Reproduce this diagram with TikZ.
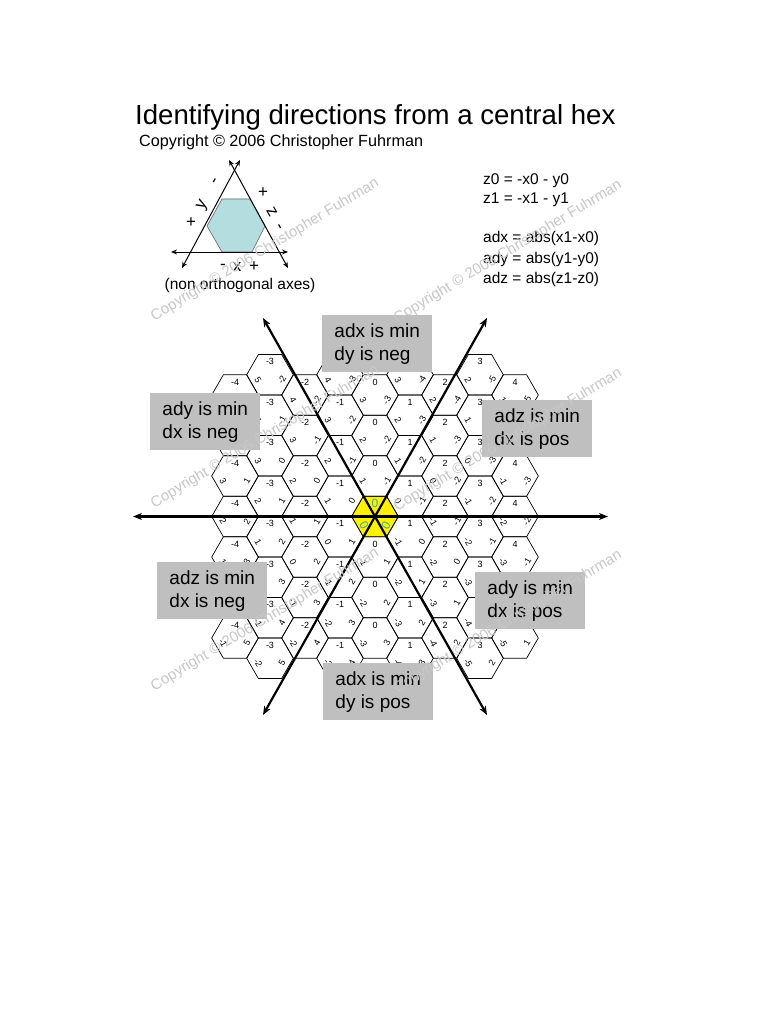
\documentclass[tikz,border=0pt]{standalone}
\usepackage{fontspec}
\setmainfont{Liberation Sans}
\usetikzlibrary{arrows.meta}
\definecolor{boxgray}{RGB}{191,191,191}
\definecolor{hexblue}{RGB}{180,221,224}
\definecolor{zerogreen}{RGB}{60,170,150}
\tikzset{
  hexline/.style={draw=black,line width=0.7pt},
  axisline/.style={line width=2.2pt,{Stealth[length=9pt,width=7pt]}-{Stealth[length=9pt,width=7pt]}},
  smallaxis/.style={line width=1pt,{Stealth[length=6pt,width=5pt]}-{Stealth[length=6pt,width=5pt]}},
  graybox/.style={fill=boxgray,minimum width=110pt,minimum height=57pt,align=left,font=\fontsize{19}{23}\selectfont,inner sep=6pt},
  hexnum/.style={font=\fontsize{9}{10}\selectfont,inner sep=0pt},
  wmark/.style={text=black!22,font=\fontsize{15}{17}\selectfont,rotate=31,inner sep=0pt},
  txt/.style={font=\fontsize{15.5}{17}\selectfont,inner sep=0pt,anchor=base west}
}
\begin{document}
\begin{tikzpicture}[x=1pt,y=-1pt]
\useasboundingbox (0,0) rectangle (768,1024);
\fill[white] (0,0) rectangle (768,1024);
% title
\node[anchor=base west,inner sep=0pt,font=\fontsize{27.6}{33}\selectfont] (title) at (135,125) {Identifying directions from a central hex};
\node[anchor=base west,inner sep=0pt,font=\fontsize{16.2}{18}\selectfont] (copy) at (139,147) {Copyright © 2006 Christopher Fuhrman};
% formulas
\node[txt] (f1) at (483,185) {z0 = -x0 - y0};
\node[txt] (f2) at (483,204) {z1 = -x1 - y1};
\node[txt] (f3) at (483,243) {adx = abs(x1-x0)};
\node[txt] (f4) at (483,263) {ady = abs(y1-y0)};
\node[txt] (f5) at (483,283) {adz = abs(z1-z0)};
% small triangle diagram
\fill[hexblue,draw=black!60,line width=0.6pt] (222,199) -- (250,199) -- (265,226) -- (252,252) -- (222,252) -- (207,226) -- cycle;
\coordinate (ta1) at (229,160); \coordinate (ta2) at (288,268);
\coordinate (tb1) at (240,160); \coordinate (tb2) at (182,268);
\coordinate (tc1) at (171,252); \coordinate (tc2) at (288,252);
\draw[smallaxis] (ta1) -- (ta2);
\draw[smallaxis] (tb1) -- (tb2);
\draw[smallaxis] (tc1) -- (tc2);
\node[font=\fontsize{17}{18}\selectfont] (yp) at (191,223) {+};
\node[font=\fontsize{17}{18}\selectfont,rotate=60] (yl) at (203,205) {y};
\node[font=\fontsize{17}{18}\selectfont,rotate=60] (ym) at (216,182) {-};
\node[font=\fontsize{17}{18}\selectfont] (zp) at (263,193) {+};
\node[font=\fontsize{17}{18}\selectfont,rotate=-60] (zl) at (272,212) {z};
\node[font=\fontsize{17}{18}\selectfont,rotate=-60] (zm) at (278,228) {-};
\node[font=\fontsize{17}{18}\selectfont] (xm) at (223,267) {-};
\node[font=\fontsize{17}{18}\selectfont] (xl) at (237,267) {x};
\node[font=\fontsize{17}{18}\selectfont] (xp) at (254,267) {+};
\node[font=\fontsize{15.5}{17}\selectfont,inner sep=0pt] (noa) at (240,285) {(non orthogonal axes)};
% hex grid
\foreach \i in {-4,...,4}{
  \foreach \r in {-6,...,6}{
    \pgfmathsetmacro\cx{375+35*\i}
    \pgfmathsetmacro\cy{516.5-40.5*(\r+\i/2)}
    \pgfmathtruncatemacro\ok{and(\cy>370,\cy<665)}
    \pgfmathtruncatemacro\zz{-\i-\r}
    \pgfmathtruncatemacro\iscenter{and(\i==0,\r==0)}
    \ifnum\ok=1
      \ifnum\iscenter=1
        \fill[yellow,hexline] (\cx-23.3,\cy) -- ++(11.65,-20.2) -- ++(23.3,0) -- ++(11.65,20.2) -- ++(-11.65,20.2) -- ++(-23.3,0) -- cycle;
        \node[hexnum,text=zerogreen,font=\fontsize{12}{12}\selectfont] (h-c-t) at (\cx,\cy-13) {0};
        \node[hexnum,text=zerogreen,font=\fontsize{12}{12}\selectfont,rotate=-60] (h-c-l) at (\cx-11,\cy+9) {0};
        \node[hexnum,text=zerogreen,font=\fontsize{12}{12}\selectfont,rotate=60] (h-c-r) at (\cx+11,\cy+9) {0};
      \else
        \draw[hexline] (\cx-23.3,\cy) -- ++(11.65,-20.2) -- ++(23.3,0) -- ++(11.65,20.2) -- ++(-11.65,20.2) -- ++(-23.3,0) -- cycle;
        \node[hexnum] (h\i\r t) at (\cx,\cy-13) {\i};
        \node[hexnum,rotate=-60] (h\i\r l) at (\cx-12,\cy+5) {\r};
        \node[hexnum,rotate=60] (h\i\r r) at (\cx+12,\cy+5) {\zz};
      \fi
    \fi
  }
}
% axes
\coordinate (C) at (375,516.5);
\coordinate (H1) at (133,516.5); \coordinate (H2) at (608,516.5);
\coordinate (D1) at (263,318); \coordinate (D2) at (487,715);
\coordinate (E1) at (487,318); \coordinate (E2) at (263,715);
\draw[axisline] (H1) -- (H2);
\draw[axisline] (D1) -- (D2);
\draw[axisline] (E1) -- (E2);
% gray boxes
\node[graybox,anchor=north west] (b1) at (322,315) {adx is min\\dy is neg};
\node[graybox,anchor=north west] (b2) at (150,393) {ady is min\\dx is neg};
\node[graybox,anchor=north west] (b3) at (482,400) {adz is min\\dx is pos};
\node[graybox,anchor=north west] (b4) at (157,562) {adz is min\\dx is neg};
\node[graybox,anchor=north west] (b5) at (475,572) {ady is min\\dx is pos};
\node[graybox,anchor=north west] (b6) at (323,663) {adx is min\\dy is pos};
% watermarks
\node[wmark] (w1) at (265,250) {Copyright © 2006 Christopher Fuhrman};
\node[wmark] (w2) at (508,252) {Copyright © 2006 Christopher Fuhrman};
\node[wmark] (w3) at (265,437) {Copyright © 2006 Christopher Fuhrman};
\node[wmark] (w4) at (508,440) {Copyright © 2006 Christopher Fuhrman};
\node[wmark] (w5) at (265,620) {Copyright © 2006 Christopher Fuhrman};
\node[wmark] (w6) at (508,622) {Copyright © 2006 Christopher Fuhrman};
\end{tikzpicture}
\end{document}
